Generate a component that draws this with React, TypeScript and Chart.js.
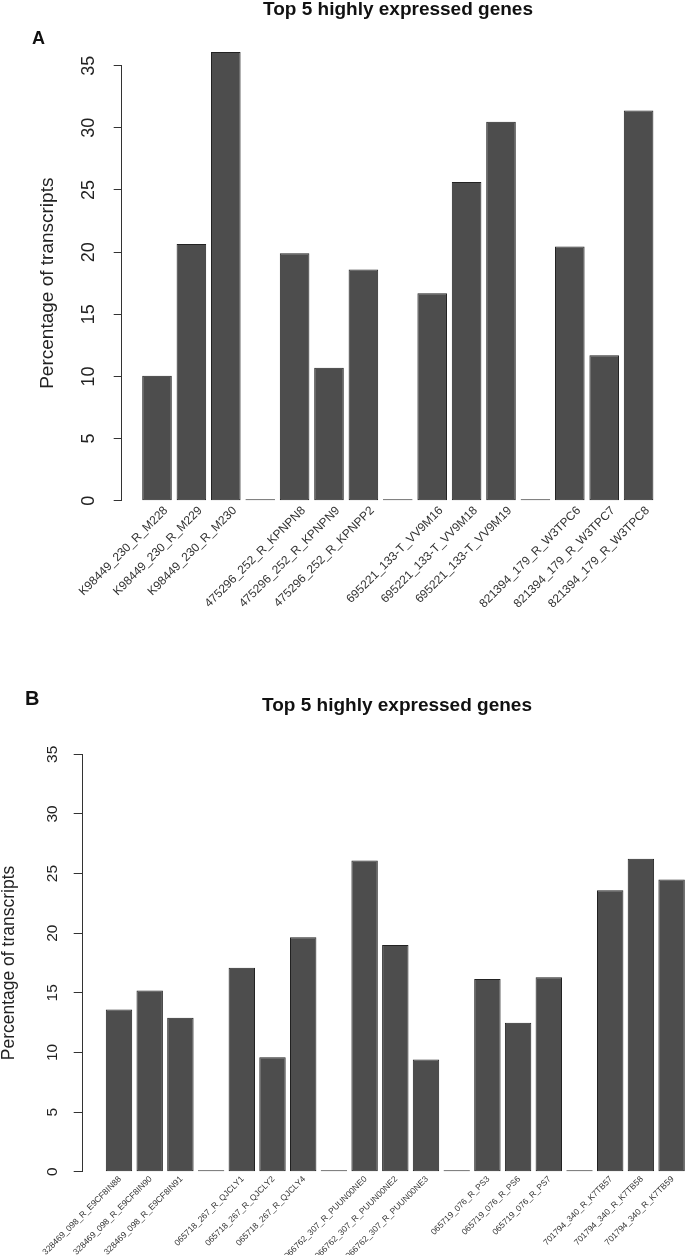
import React, { useEffect, useRef } from "react";
import { Chart, registerables } from "chart.js";

Chart.register(...registerables);

// ---------------- data ----------------
const labelsA = [
  "K98449_230_R_M228",
  "K98449_230_R_M229",
  "K98449_230_R_M230",
  "",
  "475296_252_R_KPNPN8",
  "475296_252_R_KPNPN9",
  "475296_252_R_KPNPP2",
  "",
  "695221_133-T_VV9M16",
  "695221_133-T_VV9M18",
  "695221_133-T_VV9M19",
  "",
  "821394_179_R_W3TPC6",
  "821394_179_R_W3TPC7",
  "821394_179_R_W3TPC8",
];
const valuesA = [10.05, 20.65, 36.1, 0, 19.9, 10.7, 18.6, 0, 16.7, 25.65, 30.5, 0, 20.45, 11.7, 31.4];

const labelsB = [
  "328469_098_R_E9CF8IN88",
  "328469_098_R_E9CF8IN90",
  "328469_098_R_E9CF8IN91",
  "",
  "065718_267_R_QJCLY1",
  "065718_267_R_QJCLY2",
  "065718_267_R_QJCLY4",
  "",
  "066762_307_R_PUUN00NE0",
  "066762_307_R_PUUN00NE2",
  "066762_307_R_PUUN00NE3",
  "",
  "065719_076_R_PS3",
  "065719_076_R_PS6",
  "065719_076_R_PS7",
  "",
  "701794_340_R_K7TB57",
  "701794_340_R_K7TB58",
  "701794_340_R_K7TB59",
];
const valuesB = [13.6, 15.2, 12.9, 0, 17.1, 9.6, 19.65, 0, 26.1, 19.0, 9.4, 0, 16.15, 12.5, 16.3, 0, 23.6, 26.25, 24.5];

const yTickValues = [0, 5, 10, 15, 20, 25, 30, 35];
const chartTitle = "Top 5 highly expressed genes";
const yAxisTitle = "Percentage of transcripts";

const FONT = "'Liberation Sans', Arial, Helvetica, sans-serif";

type Geo = {
  width: number;
  height: number;
  axisX: number;
  yTop: number; // pixel of value 35 within canvas
  yZero: number; // pixel of value 0 within canvas
  firstCenter: number;
  pitch: number;
  tickFont: number;
  tickPad: number;
  tickLen: number;
  yTitleFont: number;
  yTitlePad: number;
  xFont: number;
  xPad: number;
  xOffset: number;
};

function buildChart(canvas: HTMLCanvasElement, labels: string[], values: number[], g: Geo) {
  const xMin = -(g.firstCenter - g.axisX) / g.pitch;
  const xMax = xMin + (g.width - g.axisX) / g.pitch;
  return new Chart(canvas, {
    type: "bar",
    data: {
      datasets: [
        {
          data: values.map((v, i) => ({ x: i, y: v })),
          backgroundColor: "#4d4d4d",
          borderColor: "#222222",
          borderWidth: 1,
          borderSkipped: false,
          barPercentage: 0.86,
          categoryPercentage: 1,
          minBarLength: 1.5,
          clip: false,
        } as any,
      ],
    },
    options: {
      responsive: false,
      animation: false,
      events: [],
      layout: { padding: { top: g.yTop, left: 0, right: 0, bottom: 0 } },
      plugins: {
        legend: { display: false },
        tooltip: { enabled: false },
        title: { display: false },
      },
      scales: {
        x: {
          type: "linear",
          min: xMin,
          max: xMax,
          bounds: "data",
          offset: false,
          grid: { display: false, drawTicks: false },
          border: { display: false },
          afterFit: (s: any) => {
            s.height = g.height - g.yZero;
          },
          afterBuildTicks: (s: any) => {
            s.ticks = labels.map((_, i) => ({ value: i }));
          },
          ticks: {
            autoSkip: false,
            minRotation: 45,
            maxRotation: 45,
            padding: g.xPad,
            labelOffset: g.xOffset,
            color: "#333333",
            font: { family: FONT, size: g.xFont },
            callback: (v: any) => labels[Math.round(Number(v))] ?? "",
          },
        },
        y: {
          type: "linear",
          min: 0,
          max: 35,
          bounds: "data",
          afterBuildTicks: (s: any) => {
            s.ticks = yTickValues.map((v) => ({ value: v }));
          },
          afterFit: (s: any) => {
            s.width = g.axisX;
          },
          grid: {
            display: true,
            drawOnChartArea: false,
            drawTicks: true,
            tickLength: g.tickLen,
            color: "#333333",
            lineWidth: 1,
          },
          border: { display: true, color: "#333333", width: 1 },
          ticks: {
            minRotation: 90,
            maxRotation: 90,
            crossAlign: "center",
            padding: g.tickPad,
            color: "#222222",
            font: { family: FONT, size: g.tickFont },
          },
          title: {
            display: true,
            text: yAxisTitle,
            color: "#222222",
            font: { family: FONT, size: g.yTitleFont, lineHeight: 1 },
            padding: { top: g.yTitlePad, bottom: 0 },
          },
        },
      },
    } as any,
  });
}

const geoA: Geo = {
  width: 685,
  height: 650,
  axisX: 121.7,
  yTop: 65.7,
  yZero: 500.7,
  firstCenter: 157,
  pitch: 34.4,
  tickFont: 18,
  tickPad: 14.7,
  tickLen: 8,
  yTitleFont: 19,
  yTitlePad: 38.5,
  xFont: 12,
  xPad: 3,
  xOffset: 9,
};

const geoB: Geo = {
  width: 685,
  height: 605,
  axisX: 82.7,
  yTop: 104.3,
  yZero: 521.7,
  firstCenter: 119,
  pitch: 30.7,
  tickFont: 15.5,
  tickPad: 12,
  tickLen: 9,
  yTitleFont: 17.5,
  yTitlePad: 0,
  xFont: 8.5,
  xPad: 2.5,
  xOffset: 1,
};

function Panel(props: { labels: string[]; values: number[]; geo: Geo; top: number }) {
  const ref = useRef<HTMLCanvasElement | null>(null);
  useEffect(() => {
    if (!ref.current) return;
    const chart = buildChart(ref.current, props.labels, props.values, props.geo);
    return () => chart.destroy();
  }, []);
  return (
    <div style={{ position: "absolute", left: 0, top: props.top, width: props.geo.width, height: props.geo.height }}>
      <canvas ref={ref} width={props.geo.width} height={props.geo.height} />
    </div>
  );
}

const textBase: React.CSSProperties = {
  position: "absolute",
  fontFamily: FONT,
  fontWeight: "bold",
  lineHeight: 1,
  color: "#111111",
  whiteSpace: "nowrap",
};

export default function App() {
  return (
    <div style={{ position: "absolute", left: 0, top: 0, width: 685, height: 1255, background: "#ffffff", overflow: "hidden" }}>
      <Panel labels={labelsA} values={valuesA} geo={geoA} top={0} />
      <Panel labels={labelsB} values={valuesB} geo={geoB} top={650} />
      <div style={{ ...textBase, fontSize: 19, left: 398, top: -1, transform: "translateX(-50%)" }}>{chartTitle}</div>
      <div style={{ ...textBase, fontSize: 18, left: 32, top: 29 }}>A</div>
      <div style={{ ...textBase, fontSize: 19, left: 397, top: 695, transform: "translateX(-50%)" }}>{chartTitle}</div>
      <div style={{ ...textBase, fontSize: 20, left: 25, top: 688 }}>B</div>
    </div>
  );
}
